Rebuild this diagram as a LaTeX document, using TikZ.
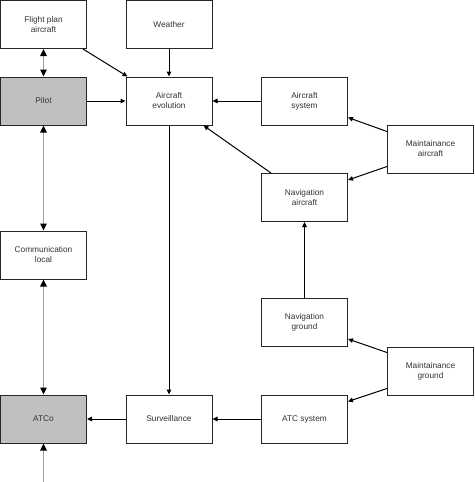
\documentclass[tikz,border=0pt]{standalone}
\usepackage{fontspec}
\setmainfont{Liberation Sans}
\usetikzlibrary{arrows.meta,calc}
\definecolor{boxgray}{RGB}{192,192,192}
\definecolor{linkgray}{RGB}{160,160,160}
\tikzset{
  blk/.style={draw=black!85, line width=1pt, rectangle, minimum width=86pt, minimum height=48pt,
    inner sep=0pt, align=center, font=\fontsize{8.3}{10}\selectfont, text=black!80},
  actor/.style={blk, fill=boxgray},
  flow/.style={draw=black, line width=1pt, -{Triangle[length=5pt,width=4.5pt]}},
  comm/.style={draw=linkgray, line width=1.6pt,
    {Triangle[length=7pt,width=6.5pt,color=black]}-{Triangle[length=7pt,width=6.5pt,color=black]}},
  commone/.style={draw=linkgray, line width=1.6pt, {Triangle[length=7pt,width=6.5pt,color=black]}-}
}
\begin{document}
\begin{tikzpicture}[x=1pt,y=-1pt]
\useasboundingbox (0,0) rectangle (474,482);
\fill[white] (0,0) rectangle (474,482);
\node[blk]   (fp)  at (43.5,24.5)  {Flight plan\\aircraft};
\node[blk]   (we)  at (169,24.5)   {Weather};
\node[actor] (pi)  at (43.5,101)   {Pilot};
\node[blk]   (ae)  at (169,101)    {Aircraft\\evolution};
\node[blk]   (as)  at (304.5,101)  {Aircraft\\system};
\node[blk]   (ma)  at (430.5,149)  {Maintainance\\aircraft};
\node[blk]   (na)  at (304.5,197.5){Navigation\\aircraft};
\node[blk]   (cl)  at (43.5,255)   {Communication\\local};
\node[blk]   (ng)  at (304.5,322.5){Navigation\\ground};
\node[blk]   (mg)  at (430.5,371)  {Maintainance\\ground};
\node[actor] (at)  at (43.5,419)   {ATCo};
\node[blk]   (su)  at (169,419)    {Surveillance};
\node[blk]   (ac)  at (304.5,419)  {ATC system};
\coordinate (bot) at (43.5,482);

\draw[comm] (fp) -- (pi);
\draw[comm] (pi) -- (cl);
\draw[comm] (cl) -- (at);
\draw[commone] (at) -- (bot);

\draw[flow] ($(fp.south east)+(-4,0)$) -- ($(ae.north west)+(2,0)$);
\draw[flow] (we) -- (ae);
\draw[flow] (pi) -- (ae);
\draw[flow] (as) -- (ae);
\draw[flow] ($(na.north west)+(10,0)$) -- ($(ae.south east)+(-9,0)$);
\draw[flow] ($(ma.north west)+(0,7)$) -- ($(as.south east)+(0,-8)$);
\draw[flow] ($(ma.south west)+(0,-7)$) -- ($(na.north east)+(0,7)$);
\draw[flow] (ng) -- (na);
\draw[flow] (ae) -- (su);
\draw[flow] ($(mg.north west)+(0,6)$) -- ($(ng.south east)+(0,-8)$);
\draw[flow] ($(mg.south west)+(0,-7)$) -- ($(ac.north east)+(0,7)$);
\draw[flow] (ac) -- (su);
\draw[flow] (su) -- (at);
\end{tikzpicture}
\end{document}
